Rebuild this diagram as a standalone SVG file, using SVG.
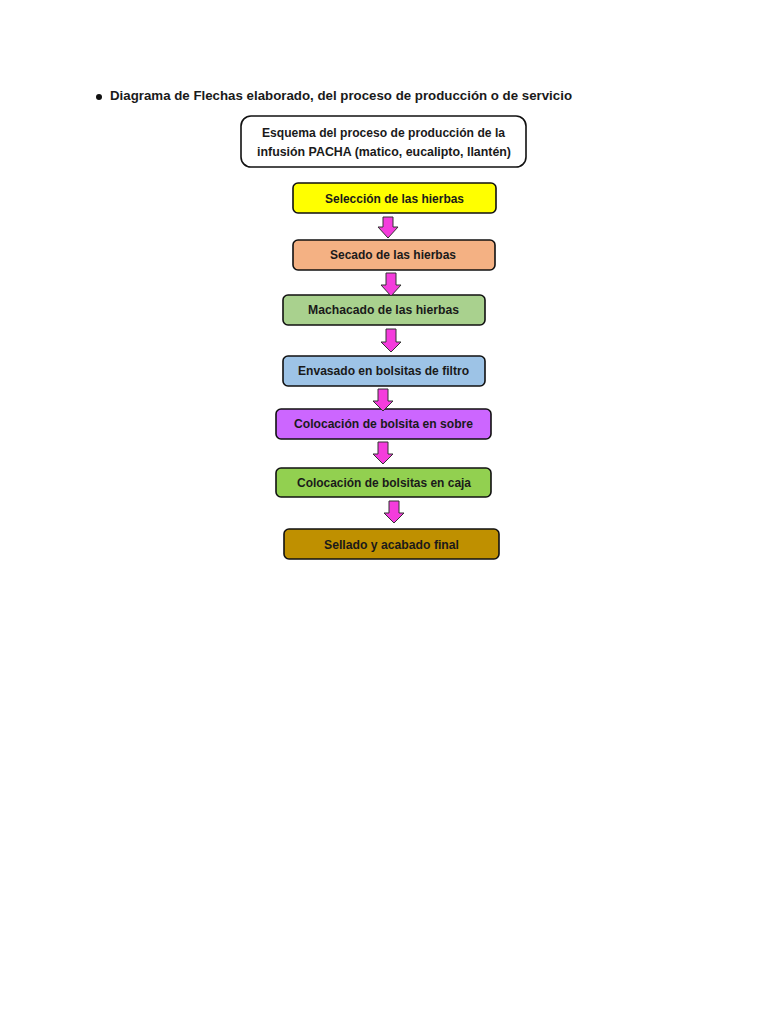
<svg xmlns="http://www.w3.org/2000/svg" width="768" height="1024" viewBox="0 0 768 1024">
<style>
.t{font-family:"Liberation Sans","Noto Sans",Arial,sans-serif;font-weight:bold;font-size:13.5px;fill:#1a1a1a;text-anchor:middle}
.b{stroke:#111;stroke-width:1.6}
.a{fill:#F43CDC;stroke:#333;stroke-width:1}
</style>
<rect width="768" height="1024" fill="#fff"/>
<g id="title">
<circle cx="99" cy="97" r="3" fill="#111"/>
<text class="t" x="341" y="100" textLength="462" lengthAdjust="spacingAndGlyphs">Diagrama de Flechas elaborado, del proceso de producción o de servicio</text>
</g>
<g id="header">
<rect x="241" y="116" width="285" height="51" rx="10" fill="#fff" class="b"/>
<text class="t" x="383.5" y="137" textLength="243" lengthAdjust="spacingAndGlyphs">Esquema del proceso de producción de la</text>
<text class="t" x="384" y="156" textLength="254" lengthAdjust="spacingAndGlyphs">infusión PACHA (matico, eucalipto, llantén)</text>
</g>
<g id="n1">
<rect x="293" y="183" width="203" height="30" rx="5" fill="#FFFF00" class="b"/>
<text class="t" x="394.5" y="203" textLength="139" lengthAdjust="spacingAndGlyphs">Selección de las hierbas</text>
</g>
<g id="n2">
<rect x="293" y="240" width="202" height="30" rx="5" fill="#F4B183" class="b"/>
<text class="t" x="393" y="259" textLength="126" lengthAdjust="spacingAndGlyphs">Secado de las hierbas</text>
</g>
<g id="n3">
<rect x="283" y="295" width="202" height="30" rx="5" fill="#A9D18E" class="b"/>
<text class="t" x="383.5" y="314" textLength="151" lengthAdjust="spacingAndGlyphs">Machacado de las hierbas</text>
</g>
<g id="n4">
<rect x="283" y="356" width="202" height="30" rx="5" fill="#9DC3E6" class="b"/>
<text class="t" x="383.5" y="375" textLength="171" lengthAdjust="spacingAndGlyphs">Envasado en bolsitas de filtro</text>
</g>
<g id="n5">
<rect x="276" y="409" width="215" height="30" rx="5" fill="#CC66FF" class="b"/>
<text class="t" x="383.5" y="428" textLength="179" lengthAdjust="spacingAndGlyphs">Colocación de bolsita en sobre</text>
</g>
<g id="n6">
<rect x="276" y="468" width="215" height="29" rx="5" fill="#92D050" class="b"/>
<text class="t" x="384" y="487" textLength="174" lengthAdjust="spacingAndGlyphs">Colocación de bolsitas en caja</text>
</g>
<g id="n7">
<rect x="284" y="529" width="215" height="30" rx="5" fill="#BF9000" class="b"/>
<text class="t" x="391.5" y="549" textLength="135" lengthAdjust="spacingAndGlyphs">Sellado y acabado final</text>
</g>
<g id="connectors">
<polygon class="a" points="383,217 393,217 393,227 398,227 388,238 378,227 383,227"/>
<polygon class="a" points="386,273 396,273 396,285 401,285 391,296 381,285 386,285"/>
<polygon class="a" points="386,329 396,329 396,342 401,342 391,352 381,342 386,342"/>
<polygon class="a" points="378,389 388,389 388,401 393,401 383,411 373,401 378,401"/>
<polygon class="a" points="378,442 388,442 388,454 393,454 383,464 373,454 378,454"/>
<polygon class="a" points="389,501 399,501 399,513 404,513 394,523 384,513 389,513"/>
</g>
</svg>
